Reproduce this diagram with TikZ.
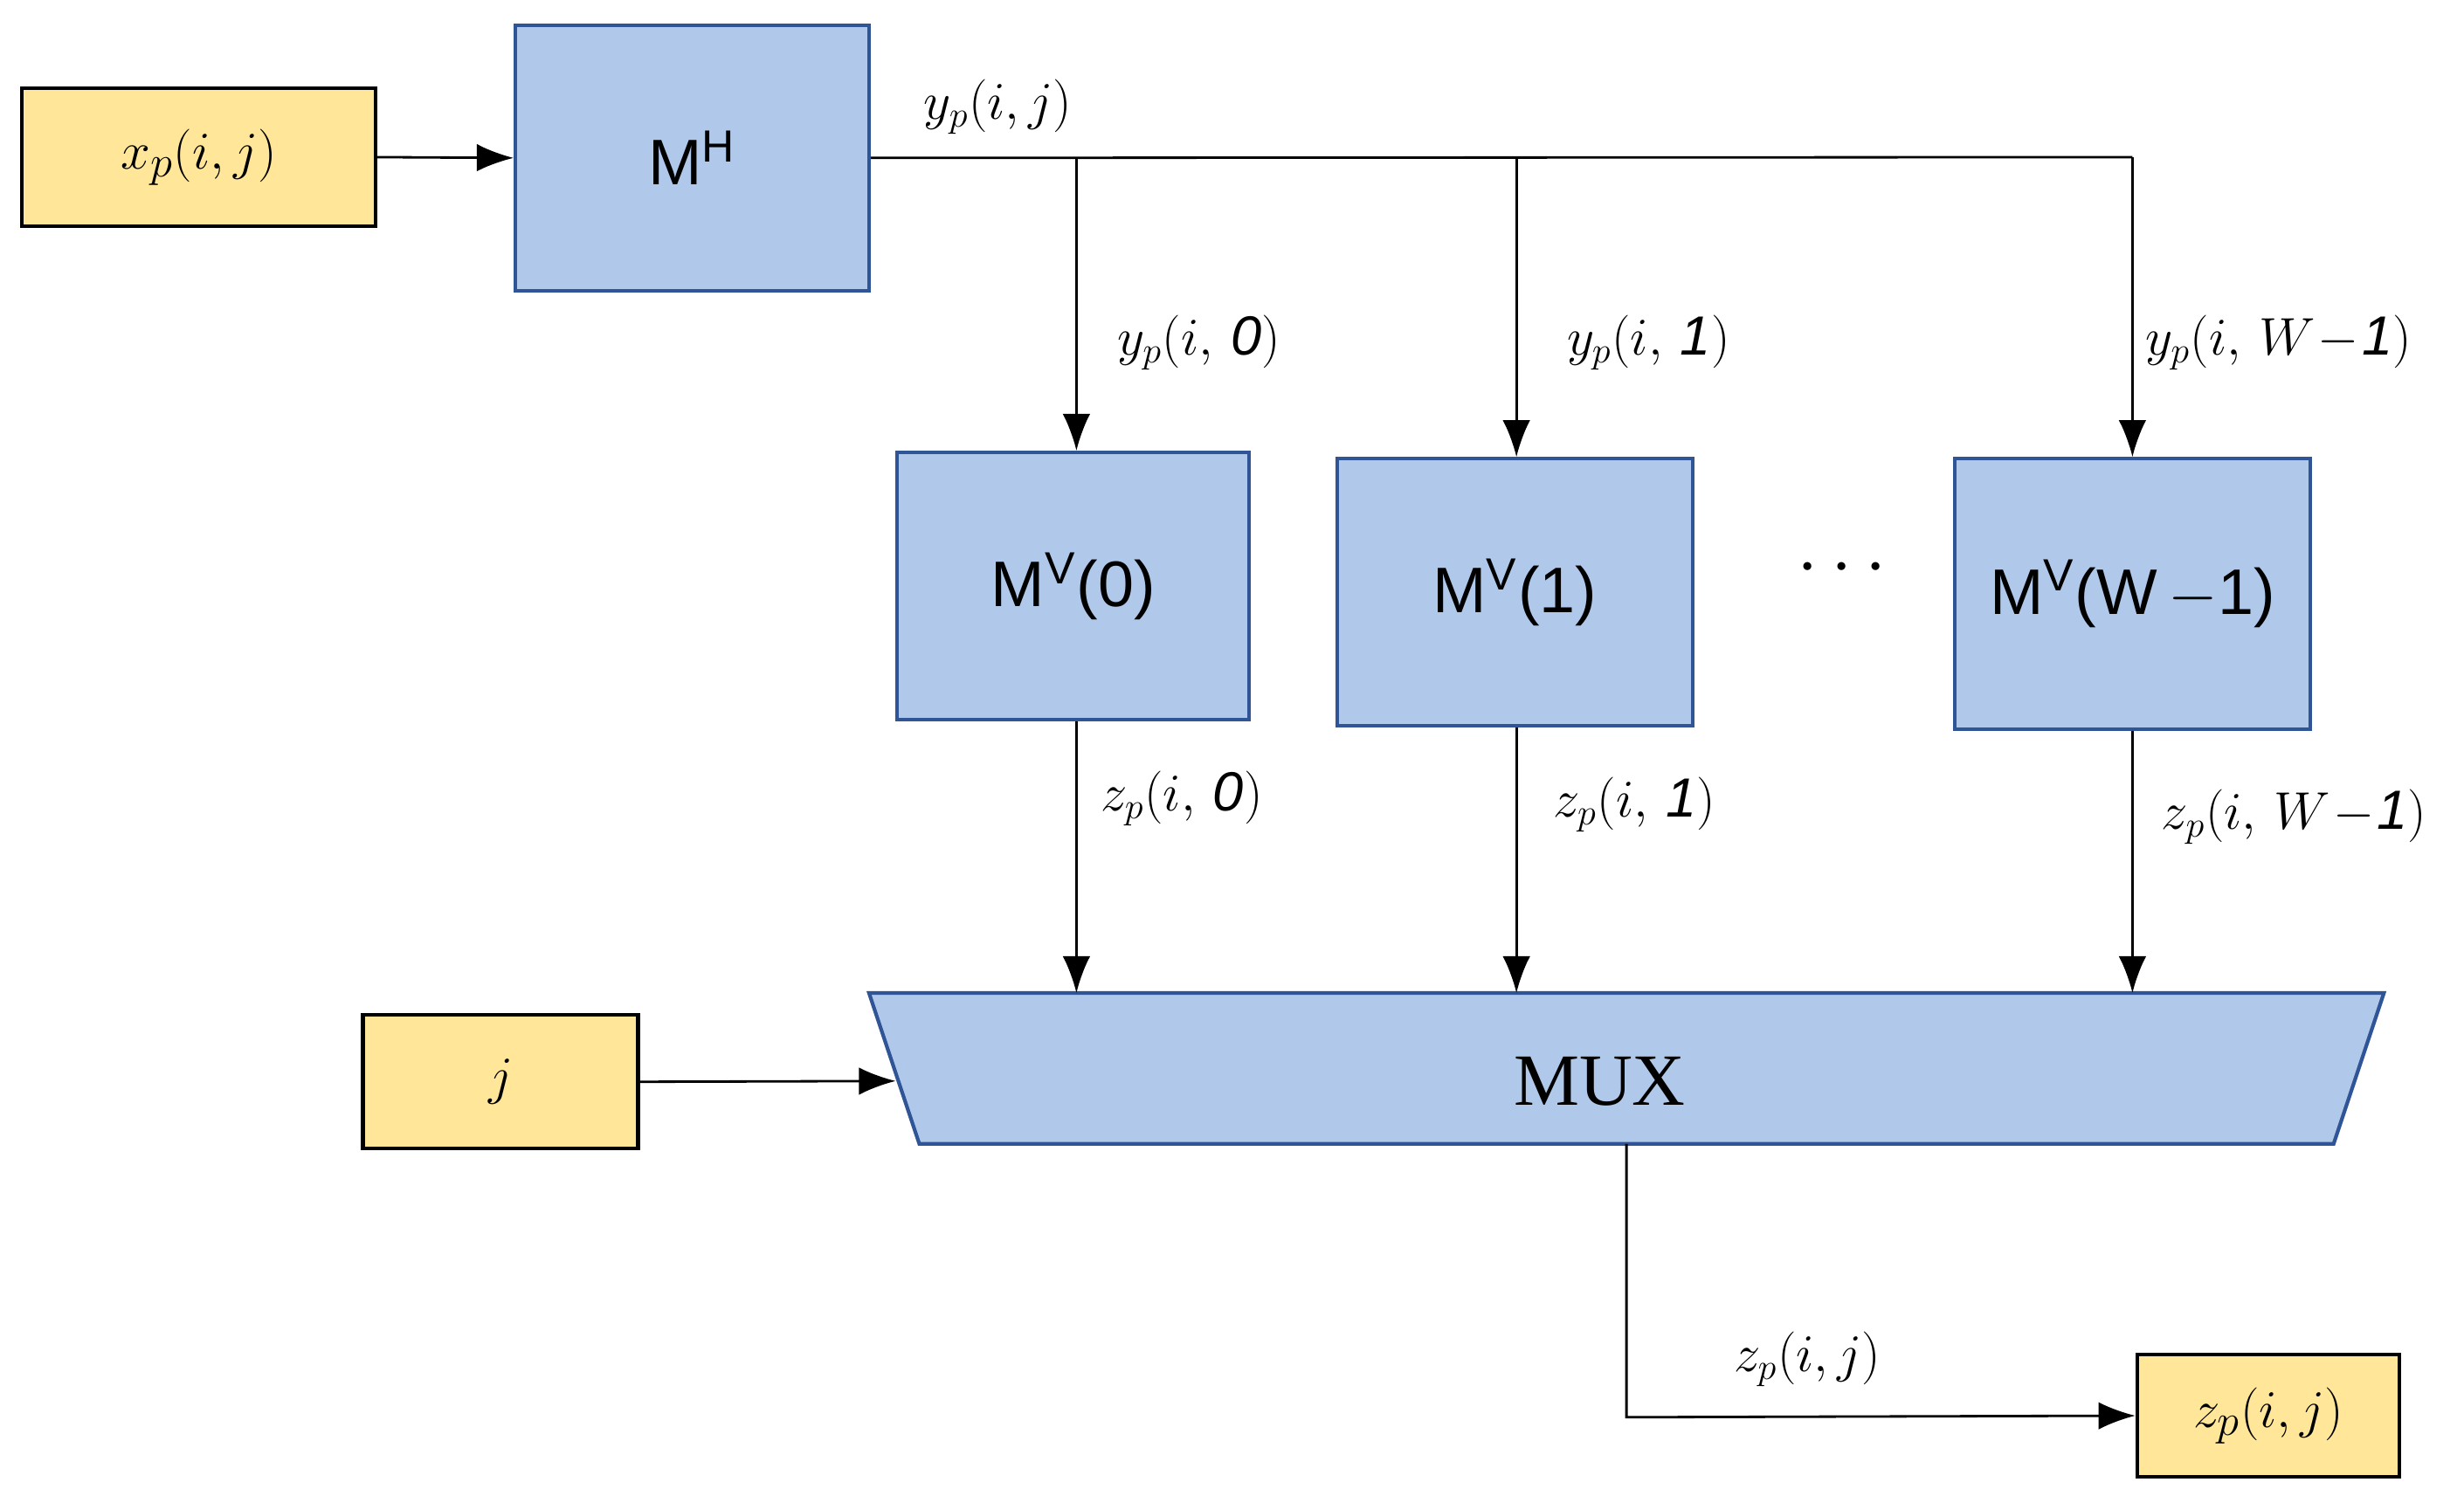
\documentclass[tikz,border=0pt]{standalone}
\usepackage{fontspec}
\setmainfont{Liberation Sans}
\newfontfamily\serif{Liberation Serif}
\usetikzlibrary{arrows.meta}
\definecolor{boxblue}{HTML}{B0C9EA}
\definecolor{boxyellow}{HTML}{FFE699}
\definecolor{edgeblue}{HTML}{2F5597}
\begin{document}
\begin{tikzpicture}[x=0.018cm,y=-0.018cm,
  blk/.style={draw=edgeblue,line width=1.2pt,fill=boxblue,font=\fontsize{21}{24}\selectfont},
  io/.style={draw=black,line width=1.2pt,fill=boxyellow,font=\fontsize{19}{22}\selectfont},
  sig/.style={line width=0.8pt,-{Latex[length=12pt,width=9pt]}},
  lbl/.style={font=\fontsize{18}{21}\selectfont}]
\useasboundingbox (0,0) rectangle (1568,952);
%Boxes
\node[io]  (x)  at (126.5,100) [minimum width=225*0.018cm,minimum height=88*0.018cm] {$x_p(i,j)$};
\node[blk] (mh) at (440.5,100.5) [minimum width=225*0.018cm,minimum height=169*0.018cm] {M\textsuperscript{H}};
\node[blk] (v0) at (683,373) [minimum width=224*0.018cm,minimum height=170*0.018cm] {M\textsuperscript{V}(0)};
\node[blk] (v1) at (964,377) [minimum width=226*0.018cm,minimum height=170*0.018cm] {M\textsuperscript{V}(1)};
\node[blk] (vw) at (1357,378) [minimum width=226*0.018cm,minimum height=172*0.018cm] {M\textsuperscript{V}(W\,$-$1)};
\node[io]  (j)  at (318.5,688.5) [minimum width=175*0.018cm,minimum height=85*0.018cm] {$j$};
\node[io]  (zo) at (1443.5,901) [minimum width=167*0.018cm,minimum height=78*0.018cm] {$z_p(i,j)$};
\draw[blk] (553,632) -- (1517,632) -- (1485,728) -- (585,728) -- cycle;
\node[font=\serif\fontsize{24}{28}\selectfont] (mux) at (1018,688) {MUX};
\node[font=\fontsize{30}{30}\selectfont] (dots) at (1172,362) {$\cdots$};
%Coordinates
\coordinate (t0) at (685,100);
\coordinate (t1) at (965,100);
\coordinate (tw) at (1357,100);
\coordinate (m0) at (685,632);
\coordinate (m1) at (965,632);
\coordinate (mw) at (1357,632);
\coordinate (mi) at (570,688);
\coordinate (mo) at (1035,728);
\coordinate (bend) at (1035,902);
%Lines
\draw[sig] (x.east) -- (mh.east -| mh.west);
\draw[line width=0.8pt] (mh.east) -- (tw);
\draw[sig] (t0) -- (t0 |- v0.north);
\draw[sig] (t1) -- (t1 |- v1.north);
\draw[sig] (tw) -- (tw |- vw.north);
\draw[sig] (m0 |- v0.south) -- (m0);
\draw[sig] (m1 |- v1.south) -- (m1);
\draw[sig] (mw |- vw.south) -- (mw);
\draw[sig] (j.east) -- (mi);
\draw[sig] (mo) -- (bend) -- (zo.west);
%Labels
\node[lbl] (l1) at (635,68) {$y_p(i,j)$};
\node[lbl] (l2) at (763,218) {$y_p(i,\,\mathit{0})$};
\node[lbl] (l3) at (1049,218) {$y_p(i,\,\mathit{1})$};
\node[lbl] (l4) at (1450,218) {$y_p(i,\,W\!-\!\mathit{1})$};
\node[lbl] (l5) at (752,508) {$z_p(i,\,\mathit{0})$};
\node[lbl] (l6) at (1040,512) {$z_p(i,\,\mathit{1})$};
\node[lbl] (l7) at (1460,520) {$z_p(i,\,W\!-\!\mathit{1})$};
\node[lbl] (l8) at (1150,865) {$z_p(i,j)$};
\end{tikzpicture}
\end{document}
